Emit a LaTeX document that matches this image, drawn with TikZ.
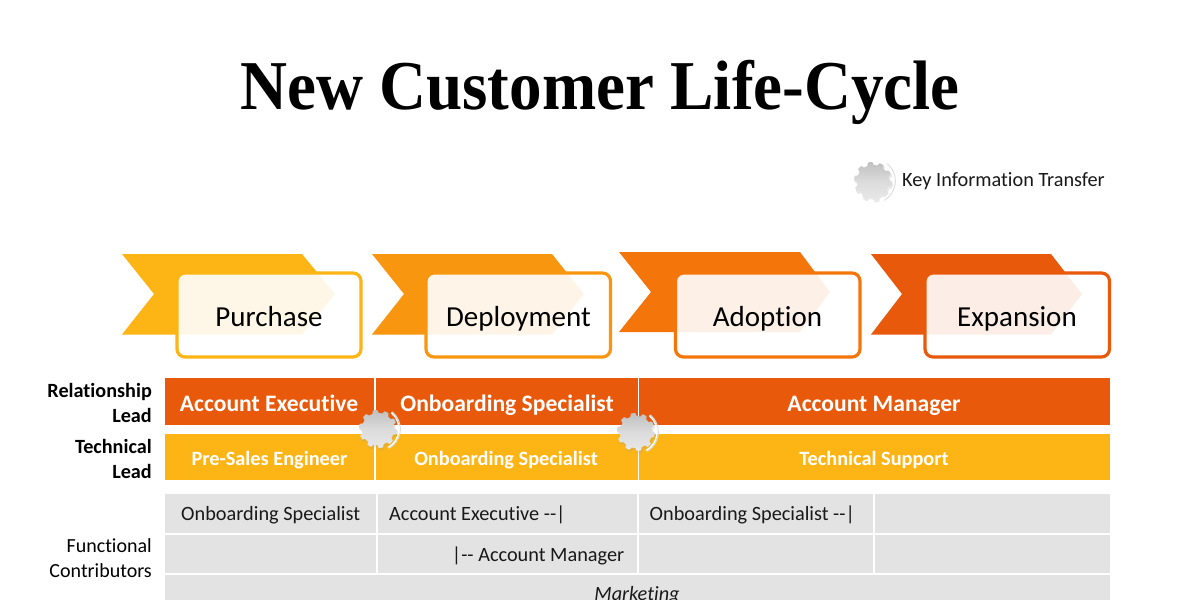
\documentclass[tikz,border=0pt]{standalone}
\usepackage{fontspec}
\setmainfont[Ligatures=NoCommon]{Carlito}
\newfontfamily\titlefont{Liberation Serif}
\usetikzlibrary{shadings}
\definecolor{cA}{HTML}{FDB515}
\definecolor{cB}{HTML}{F8960F}
\definecolor{cC}{HTML}{F4760B}
\definecolor{cD}{HTML}{E8590C}
\definecolor{gridgrey}{HTML}{E3E3E3}
\tikzset{
  chev/.style={fill=#1,draw=none},
  card/.style={draw=#1,line width=3.2pt,rounded corners=8pt,fill=white,fill opacity=.9},
  stagelabel/.style={font=\fontsize{29}{29}\selectfont,text=black,anchor=base,inner sep=0pt},
  barlabel/.style={font=\bfseries\fontsize{#1}{#1}\selectfont,text=white,anchor=base,inner sep=0pt},
  bar/.style={fill=#1,draw=none},
  cell/.style={fill=gridgrey,draw=none},
  celltext/.style={font=\fontsize{20.3}{20.3}\selectfont,text=black!90},
  sidelabel/.style={align=right,anchor=east,text=black,inner sep=0pt},
  pics/gear/.style={code={
    \fill[black!40,opacity=.22,shift={(1,2)}] plot[domain=0:360,samples=181] ({(18+1.5*max(min(2.5*sin(10*\x),1),-1))*cos(\x)},{(18+1.5*max(min(2.5*sin(10*\x),1),-1))*sin(\x)}) -- cycle;
    \shade[top color=black!25,bottom color=black!9,middle color=black!14] plot[domain=0:360,samples=181] ({(17.5+1.5*max(min(2.5*sin(10*\x),1),-1))*cos(\x)},{(17.5+1.5*max(min(2.5*sin(10*\x),1),-1))*sin(\x)}) -- cycle;
    \draw[black!14,line width=1pt,line cap=round] (-50:22.3) arc[start angle=-50,end angle=60,radius=22.3];
    \draw[white,line width=1.4pt,line cap=round] (-50:21) arc[start angle=-50,end angle=60,radius=21];
  }}
}
\begin{document}
\begin{tikzpicture}[x=1pt,y=-1pt]
\useasboundingbox (0,0) rectangle (1200,600);
\clip (0,0) rectangle (1200,600);
\fill[white] (0,0) rectangle (1200,600);
\node[anchor=base,inner sep=0pt] (title) at (600,109.5) {\scalebox{.93}[1]{\titlefont\bfseries\fontsize{70}{70}\selectfont New Customer Life-Cycle}};

% legend
\pic at (873,181) {gear};
\node[font=\fontsize{20.3}{20.3}\selectfont,anchor=base west,inner sep=0pt,text=black!90] (legend) at (902,186) {Key Information Transfer};

% chevrons and cards
\fill[chev=cA] (122,254)--(302,254)--(335,294)--(302,334.5)--(122,334.5)--(154,294)--cycle;
\draw[card=cA] (177,273) rectangle (361,357);
\node[stagelabel] (purchase) at (269,326) {Purchase};

\fill[chev=cB] (372,254)--(552,254)--(584,294)--(552,334.5)--(372,334.5)--(404,294)--cycle;
\draw[card=cB] (426,273) rectangle (610.5,357);
\node[stagelabel] (deployment) at (518.5,326) {Deployment};

\fill[chev=cC] (619,252)--(800,252)--(830,292)--(800,332)--(619,332)--(651,292)--cycle;
\draw[card=cC] (675.5,273) rectangle (860,357);
\node[stagelabel] (adoption) at (767.5,326) {Adoption};

\fill[chev=cD] (871,254)--(1051,254)--(1082,294)--(1051,334.5)--(871,334.5)--(902,294)--cycle;
\draw[card=cD] (925,273) rectangle (1109.5,357);
\node[stagelabel] (expansion) at (1017,326) {Expansion};

% lead bars
\fill[bar=cD] (165,378) rectangle (374,425);
\fill[bar=cD] (375.5,378) rectangle (637.5,425);
\fill[bar=cD] (639,378) rectangle (1110,425);
\fill[bar=cA] (165,434) rectangle (374,480);
\fill[bar=cA] (375.5,434) rectangle (637.5,480);
\fill[bar=cA] (639,434) rectangle (1110,480);
\node[barlabel=23.6] (ae) at (269,411.5) {Account Executive};
\node[barlabel=23.6] (os) at (507,411.5) {Onboarding Specialist};
\node[barlabel=23.6] (am) at (874,411.5) {Account Manager};
\node[barlabel=20.3] (pse) at (269.5,465) {Pre-Sales Engineer};
\node[barlabel=20.3] (os2) at (506,465) {Onboarding Specialist};
\node[barlabel=20.3] (ts) at (874,465) {Technical Support};

% gears
\pic at (378,429) {gear};
\pic at (636,432) {gear};

% side labels
\node[sidelabel,font=\bfseries\fontsize{20.2}{24.5}\selectfont] (rel) at (152,403) {Relationship\\Lead};
\node[sidelabel,font=\bfseries\fontsize{20.2}{24.5}\selectfont] (tech) at (152,459) {Technical\\Lead};
\node[sidelabel,font=\fontsize{20}{24.5}\selectfont] (func) at (152,558) {Functional\\Contributors};

% contributor grid
\fill[cell] (165,493.5) rectangle (376,533);
\fill[cell] (377.5,493.5) rectangle (637,533);
\fill[cell] (638.5,493.5) rectangle (873,533);
\fill[cell] (874.5,493.5) rectangle (1110,533);
\fill[cell] (165,534.5) rectangle (376,573);
\fill[cell] (377.5,534.5) rectangle (637,573);
\fill[cell] (638.5,534.5) rectangle (873,573);
\fill[cell] (874.5,534.5) rectangle (1110,573);
\fill[cell] (165,575) rectangle (1110,600);
\node[celltext,anchor=base west,inner sep=0pt] (c1) at (181,520) {Onboarding Specialist};
\node[celltext,anchor=base west,inner sep=0pt] (c2) at (389,520) {Account Executive -{}-|};
\node[celltext,anchor=base west,inner sep=0pt] (c3) at (649.5,520) {Onboarding Specialist -{}-|};
\node[celltext,anchor=base east,inner sep=0pt] (c4) at (624.5,561) {|-{}- Account Manager};
\node[celltext,anchor=base,inner sep=0pt,font=\itshape\fontsize{20.3}{20.3}\selectfont] (c5) at (637,600.5) {Marketing};
\end{tikzpicture}
\end{document}
